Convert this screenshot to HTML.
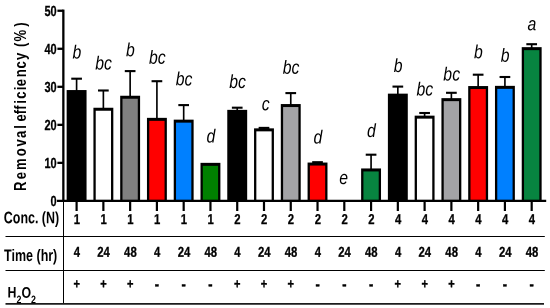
<!DOCTYPE html>
<html><head><meta charset="utf-8"><title>Removal efficiency</title>
<style>
html,body{margin:0;padding:0;background:#fff;}
svg{display:block;}
text{font-family:"Liberation Sans",Arial,sans-serif;fill:#000;}
.b{font-weight:bold;}
.i{font-style:italic;}
</style></head><body>
<svg width="550" height="308" viewBox="0 0 550 308">
<rect width="550" height="308" fill="#fff"/>
<path d="M76.60 91.05V78.70" stroke="#000" stroke-width="1.65" fill="none"/>
<path d="M71.25 78.70H81.95" stroke="#000" stroke-width="2.1" fill="none"/>
<rect x="66.65" y="90.05" width="19.90" height="110.85" fill="#000"/>
<rect x="68.95" y="93.05" width="15.30" height="106.85" fill="#000000"/>
<path d="M103.37 108.75V90.50" stroke="#000" stroke-width="1.65" fill="none"/>
<path d="M98.02 90.50H108.72" stroke="#000" stroke-width="2.1" fill="none"/>
<rect x="93.42" y="107.75" width="19.90" height="93.15" fill="#000"/>
<rect x="95.72" y="110.75" width="15.30" height="89.15" fill="#ffffff"/>
<path d="M130.14 96.75V71.10" stroke="#000" stroke-width="1.65" fill="none"/>
<path d="M124.79 71.10H135.49" stroke="#000" stroke-width="2.1" fill="none"/>
<rect x="120.19" y="95.75" width="19.90" height="105.15" fill="#000"/>
<rect x="122.49" y="98.75" width="15.30" height="101.15" fill="#808080"/>
<path d="M156.91 118.85V81.20" stroke="#000" stroke-width="1.65" fill="none"/>
<path d="M151.56 81.20H162.26" stroke="#000" stroke-width="2.1" fill="none"/>
<rect x="146.96" y="117.85" width="19.90" height="83.05" fill="#000"/>
<rect x="149.26" y="120.85" width="15.30" height="79.05" fill="#ff0000"/>
<path d="M183.68 120.65V105.10" stroke="#000" stroke-width="1.65" fill="none"/>
<path d="M178.33 105.10H189.03" stroke="#000" stroke-width="2.1" fill="none"/>
<rect x="173.73" y="119.65" width="19.90" height="81.25" fill="#000"/>
<rect x="176.03" y="122.65" width="15.30" height="77.25" fill="#0080ff"/>
<rect x="200.50" y="162.85" width="19.90" height="38.05" fill="#000"/>
<rect x="202.80" y="165.85" width="15.30" height="34.05" fill="#008000"/>
<path d="M237.22 110.85V107.70" stroke="#000" stroke-width="1.65" fill="none"/>
<path d="M231.87 107.70H242.57" stroke="#000" stroke-width="2.1" fill="none"/>
<rect x="227.27" y="109.85" width="19.90" height="91.05" fill="#000"/>
<rect x="229.57" y="112.85" width="15.30" height="87.05" fill="#000000"/>
<path d="M263.99 129.35V127.90" stroke="#000" stroke-width="1.65" fill="none"/>
<path d="M258.64 127.90H269.34" stroke="#000" stroke-width="2.1" fill="none"/>
<rect x="254.04" y="128.35" width="19.90" height="72.55" fill="#000"/>
<rect x="256.34" y="131.35" width="15.30" height="68.55" fill="#ffffff"/>
<path d="M290.76 105.05V93.10" stroke="#000" stroke-width="1.65" fill="none"/>
<path d="M285.41 93.10H296.11" stroke="#000" stroke-width="2.1" fill="none"/>
<rect x="280.81" y="104.05" width="19.90" height="96.85" fill="#000"/>
<rect x="283.11" y="107.05" width="15.30" height="92.85" fill="#a3a3a6"/>
<path d="M317.53 163.55V162.20" stroke="#000" stroke-width="1.65" fill="none"/>
<path d="M312.18 162.20H322.88" stroke="#000" stroke-width="2.1" fill="none"/>
<rect x="307.58" y="162.55" width="19.90" height="38.35" fill="#000"/>
<rect x="309.88" y="165.55" width="15.30" height="34.35" fill="#ff0000"/>
<path d="M371.07 169.45V154.70" stroke="#000" stroke-width="1.65" fill="none"/>
<path d="M365.72 154.70H376.42" stroke="#000" stroke-width="2.1" fill="none"/>
<rect x="361.12" y="168.45" width="19.90" height="32.45" fill="#000"/>
<rect x="363.42" y="171.45" width="15.30" height="28.45" fill="#078440"/>
<path d="M397.84 94.65V86.60" stroke="#000" stroke-width="1.65" fill="none"/>
<path d="M392.49 86.60H403.19" stroke="#000" stroke-width="2.1" fill="none"/>
<rect x="387.89" y="93.65" width="19.90" height="107.25" fill="#000"/>
<rect x="390.19" y="96.65" width="15.30" height="103.25" fill="#000000"/>
<path d="M424.61 116.65V113.00" stroke="#000" stroke-width="1.65" fill="none"/>
<path d="M419.26 113.00H429.96" stroke="#000" stroke-width="2.1" fill="none"/>
<rect x="414.66" y="115.65" width="19.90" height="85.25" fill="#000"/>
<rect x="416.96" y="118.65" width="15.30" height="81.25" fill="#ffffff"/>
<path d="M451.38 99.15V92.80" stroke="#000" stroke-width="1.65" fill="none"/>
<path d="M446.03 92.80H456.73" stroke="#000" stroke-width="2.1" fill="none"/>
<rect x="441.43" y="98.15" width="19.90" height="102.75" fill="#000"/>
<rect x="443.73" y="101.15" width="15.30" height="98.75" fill="#a3a3a6"/>
<path d="M478.15 87.05V74.70" stroke="#000" stroke-width="1.65" fill="none"/>
<path d="M472.80 74.70H483.50" stroke="#000" stroke-width="2.1" fill="none"/>
<rect x="468.20" y="86.05" width="19.90" height="114.85" fill="#000"/>
<rect x="470.50" y="89.05" width="15.30" height="110.85" fill="#ff0000"/>
<path d="M504.92 86.85V77.00" stroke="#000" stroke-width="1.65" fill="none"/>
<path d="M499.57 77.00H510.27" stroke="#000" stroke-width="2.1" fill="none"/>
<rect x="494.97" y="85.85" width="19.90" height="115.05" fill="#000"/>
<rect x="497.27" y="88.85" width="15.30" height="111.05" fill="#0080ff"/>
<path d="M531.69 48.15V44.20" stroke="#000" stroke-width="1.65" fill="none"/>
<path d="M526.34 44.20H537.04" stroke="#000" stroke-width="2.1" fill="none"/>
<rect x="521.74" y="47.15" width="19.90" height="153.75" fill="#000"/>
<rect x="524.04" y="50.15" width="15.30" height="149.75" fill="#078440"/>
<path d="M63.35 9.6V201.9" stroke="#000" stroke-width="2.3" fill="none"/>
<path d="M57 200.9H546.2" stroke="#000" stroke-width="2.2" fill="none"/>
<path d="M57.4 162.87H63.35" stroke="#000" stroke-width="2.3" fill="none"/>
<path d="M57.4 124.84H63.35" stroke="#000" stroke-width="2.3" fill="none"/>
<path d="M57.4 86.81H63.35" stroke="#000" stroke-width="2.3" fill="none"/>
<path d="M57.4 48.78H63.35" stroke="#000" stroke-width="2.3" fill="none"/>
<path d="M57.4 10.75H63.35" stroke="#000" stroke-width="2.3" fill="none"/>
<text class="b" transform="translate(56.70,206.10) rotate(0.2) scale(0.75,1)" font-size="14.6" text-anchor="end" stroke="#000" stroke-width="0.3">0</text>
<text class="b" transform="translate(56.70,168.07) rotate(0.2) scale(0.75,1)" font-size="14.6" text-anchor="end" stroke="#000" stroke-width="0.3">10</text>
<text class="b" transform="translate(56.70,130.04) rotate(0.2) scale(0.75,1)" font-size="14.6" text-anchor="end" stroke="#000" stroke-width="0.3">20</text>
<text class="b" transform="translate(56.70,92.01) rotate(0.2) scale(0.75,1)" font-size="14.6" text-anchor="end" stroke="#000" stroke-width="0.3">30</text>
<text class="b" transform="translate(56.70,53.98) rotate(0.2) scale(0.75,1)" font-size="14.6" text-anchor="end" stroke="#000" stroke-width="0.3">40</text>
<text class="b" transform="translate(56.70,15.95) rotate(0.2) scale(0.75,1)" font-size="14.6" text-anchor="end" stroke="#000" stroke-width="0.3">50</text>
<path d="M76.60 200.9V211.0" stroke="#000" stroke-width="2.2" fill="none"/>
<path d="M103.37 200.9V211.0" stroke="#000" stroke-width="2.2" fill="none"/>
<path d="M130.14 200.9V211.0" stroke="#000" stroke-width="2.2" fill="none"/>
<path d="M156.91 200.9V211.0" stroke="#000" stroke-width="2.2" fill="none"/>
<path d="M183.68 200.9V211.0" stroke="#000" stroke-width="2.2" fill="none"/>
<path d="M210.45 200.9V211.0" stroke="#000" stroke-width="2.2" fill="none"/>
<path d="M237.22 200.9V211.0" stroke="#000" stroke-width="2.2" fill="none"/>
<path d="M263.99 200.9V211.0" stroke="#000" stroke-width="2.2" fill="none"/>
<path d="M290.76 200.9V211.0" stroke="#000" stroke-width="2.2" fill="none"/>
<path d="M317.53 200.9V211.0" stroke="#000" stroke-width="2.2" fill="none"/>
<path d="M344.30 200.9V211.0" stroke="#000" stroke-width="2.2" fill="none"/>
<path d="M371.07 200.9V211.0" stroke="#000" stroke-width="2.2" fill="none"/>
<path d="M397.84 200.9V211.0" stroke="#000" stroke-width="2.2" fill="none"/>
<path d="M424.61 200.9V211.0" stroke="#000" stroke-width="2.2" fill="none"/>
<path d="M451.38 200.9V211.0" stroke="#000" stroke-width="2.2" fill="none"/>
<path d="M478.15 200.9V211.0" stroke="#000" stroke-width="2.2" fill="none"/>
<path d="M504.92 200.9V211.0" stroke="#000" stroke-width="2.2" fill="none"/>
<path d="M531.69 200.9V211.0" stroke="#000" stroke-width="2.2" fill="none"/>
<path d="M63.5 201V304" stroke="#000" stroke-width="1" fill="none"/>
<path d="M5.5 236.5H544.8M5.5 270.5H544.8" stroke="#000" stroke-width="1" fill="none"/>
<path d="M5.5 303.9H544.0" stroke="#1c1c1c" stroke-width="1.9" fill="none"/>
<text class="b" transform="translate(3.80,223.20) rotate(0.2) scale(0.746,1)" font-size="16.7" text-anchor="start">Conc. (N)</text>
<text class="b" transform="translate(4.10,260.90) rotate(0.2) scale(0.748,1)" font-size="16.7" text-anchor="start">Time (hr)</text>
<text class="b" transform="translate(7.6,297.6) rotate(0.2) scale(0.80,1)" font-size="15.4">H<tspan font-size="11" dy="5.5">2</tspan><tspan dy="-5.5">O</tspan><tspan font-size="11" dy="5.5">2</tspan></text>
<text class="b" transform="translate(76.85,224.00) rotate(0.2) scale(0.79,1)" font-size="14.3" text-anchor="middle" stroke="#000" stroke-width="0.3">1</text>
<text class="b" transform="translate(76.85,256.80) rotate(0.2) scale(0.79,1)" font-size="14.3" text-anchor="middle" stroke="#000" stroke-width="0.3">4</text>
<text class="b" transform="translate(76.60,288.30) rotate(0.2) scale(0.82,1)" font-size="13.5" text-anchor="middle" stroke="#000" stroke-width="0.35">+</text>
<text class="b" transform="translate(103.62,224.00) rotate(0.2) scale(0.79,1)" font-size="14.3" text-anchor="middle" stroke="#000" stroke-width="0.3">1</text>
<text class="b" transform="translate(103.62,256.80) rotate(0.2) scale(0.79,1)" font-size="14.3" text-anchor="middle" stroke="#000" stroke-width="0.3">24</text>
<text class="b" transform="translate(103.37,288.30) rotate(0.2) scale(0.82,1)" font-size="13.5" text-anchor="middle" stroke="#000" stroke-width="0.35">+</text>
<text class="b" transform="translate(130.39,224.00) rotate(0.2) scale(0.79,1)" font-size="14.3" text-anchor="middle" stroke="#000" stroke-width="0.3">1</text>
<text class="b" transform="translate(130.39,256.80) rotate(0.2) scale(0.79,1)" font-size="14.3" text-anchor="middle" stroke="#000" stroke-width="0.3">48</text>
<text class="b" transform="translate(130.14,288.30) rotate(0.2) scale(0.82,1)" font-size="13.5" text-anchor="middle" stroke="#000" stroke-width="0.35">+</text>
<text class="b" transform="translate(157.16,224.00) rotate(0.2) scale(0.79,1)" font-size="14.3" text-anchor="middle" stroke="#000" stroke-width="0.3">1</text>
<text class="b" transform="translate(157.16,256.80) rotate(0.2) scale(0.79,1)" font-size="14.3" text-anchor="middle" stroke="#000" stroke-width="0.3">4</text>
<text class="b" transform="translate(156.91,289.20) rotate(0.2) scale(0.85,1)" font-size="15" text-anchor="middle" stroke="#000" stroke-width="0.5">-</text>
<text class="b" transform="translate(183.93,224.00) rotate(0.2) scale(0.79,1)" font-size="14.3" text-anchor="middle" stroke="#000" stroke-width="0.3">1</text>
<text class="b" transform="translate(183.93,256.80) rotate(0.2) scale(0.79,1)" font-size="14.3" text-anchor="middle" stroke="#000" stroke-width="0.3">24</text>
<text class="b" transform="translate(183.68,289.20) rotate(0.2) scale(0.85,1)" font-size="15" text-anchor="middle" stroke="#000" stroke-width="0.5">-</text>
<text class="b" transform="translate(210.70,224.00) rotate(0.2) scale(0.79,1)" font-size="14.3" text-anchor="middle" stroke="#000" stroke-width="0.3">1</text>
<text class="b" transform="translate(210.70,256.80) rotate(0.2) scale(0.79,1)" font-size="14.3" text-anchor="middle" stroke="#000" stroke-width="0.3">48</text>
<text class="b" transform="translate(210.45,289.20) rotate(0.2) scale(0.85,1)" font-size="15" text-anchor="middle" stroke="#000" stroke-width="0.5">-</text>
<text class="b" transform="translate(237.47,224.00) rotate(0.2) scale(0.79,1)" font-size="14.3" text-anchor="middle" stroke="#000" stroke-width="0.3">2</text>
<text class="b" transform="translate(237.47,256.80) rotate(0.2) scale(0.79,1)" font-size="14.3" text-anchor="middle" stroke="#000" stroke-width="0.3">4</text>
<text class="b" transform="translate(237.22,288.30) rotate(0.2) scale(0.82,1)" font-size="13.5" text-anchor="middle" stroke="#000" stroke-width="0.35">+</text>
<text class="b" transform="translate(264.24,224.00) rotate(0.2) scale(0.79,1)" font-size="14.3" text-anchor="middle" stroke="#000" stroke-width="0.3">2</text>
<text class="b" transform="translate(264.24,256.80) rotate(0.2) scale(0.79,1)" font-size="14.3" text-anchor="middle" stroke="#000" stroke-width="0.3">24</text>
<text class="b" transform="translate(263.99,288.30) rotate(0.2) scale(0.82,1)" font-size="13.5" text-anchor="middle" stroke="#000" stroke-width="0.35">+</text>
<text class="b" transform="translate(291.01,224.00) rotate(0.2) scale(0.79,1)" font-size="14.3" text-anchor="middle" stroke="#000" stroke-width="0.3">2</text>
<text class="b" transform="translate(291.01,256.80) rotate(0.2) scale(0.79,1)" font-size="14.3" text-anchor="middle" stroke="#000" stroke-width="0.3">48</text>
<text class="b" transform="translate(290.76,288.30) rotate(0.2) scale(0.82,1)" font-size="13.5" text-anchor="middle" stroke="#000" stroke-width="0.35">+</text>
<text class="b" transform="translate(317.78,224.00) rotate(0.2) scale(0.79,1)" font-size="14.3" text-anchor="middle" stroke="#000" stroke-width="0.3">2</text>
<text class="b" transform="translate(317.78,256.80) rotate(0.2) scale(0.79,1)" font-size="14.3" text-anchor="middle" stroke="#000" stroke-width="0.3">4</text>
<text class="b" transform="translate(317.53,289.20) rotate(0.2) scale(0.85,1)" font-size="15" text-anchor="middle" stroke="#000" stroke-width="0.5">-</text>
<text class="b" transform="translate(344.55,224.00) rotate(0.2) scale(0.79,1)" font-size="14.3" text-anchor="middle" stroke="#000" stroke-width="0.3">2</text>
<text class="b" transform="translate(344.55,256.80) rotate(0.2) scale(0.79,1)" font-size="14.3" text-anchor="middle" stroke="#000" stroke-width="0.3">24</text>
<text class="b" transform="translate(344.30,289.20) rotate(0.2) scale(0.85,1)" font-size="15" text-anchor="middle" stroke="#000" stroke-width="0.5">-</text>
<text class="b" transform="translate(371.32,224.00) rotate(0.2) scale(0.79,1)" font-size="14.3" text-anchor="middle" stroke="#000" stroke-width="0.3">2</text>
<text class="b" transform="translate(371.32,256.80) rotate(0.2) scale(0.79,1)" font-size="14.3" text-anchor="middle" stroke="#000" stroke-width="0.3">48</text>
<text class="b" transform="translate(371.07,289.20) rotate(0.2) scale(0.85,1)" font-size="15" text-anchor="middle" stroke="#000" stroke-width="0.5">-</text>
<text class="b" transform="translate(398.09,224.00) rotate(0.2) scale(0.79,1)" font-size="14.3" text-anchor="middle" stroke="#000" stroke-width="0.3">4</text>
<text class="b" transform="translate(398.09,256.80) rotate(0.2) scale(0.79,1)" font-size="14.3" text-anchor="middle" stroke="#000" stroke-width="0.3">4</text>
<text class="b" transform="translate(397.84,288.30) rotate(0.2) scale(0.82,1)" font-size="13.5" text-anchor="middle" stroke="#000" stroke-width="0.35">+</text>
<text class="b" transform="translate(424.86,224.00) rotate(0.2) scale(0.79,1)" font-size="14.3" text-anchor="middle" stroke="#000" stroke-width="0.3">4</text>
<text class="b" transform="translate(424.86,256.80) rotate(0.2) scale(0.79,1)" font-size="14.3" text-anchor="middle" stroke="#000" stroke-width="0.3">24</text>
<text class="b" transform="translate(424.61,288.30) rotate(0.2) scale(0.82,1)" font-size="13.5" text-anchor="middle" stroke="#000" stroke-width="0.35">+</text>
<text class="b" transform="translate(451.63,224.00) rotate(0.2) scale(0.79,1)" font-size="14.3" text-anchor="middle" stroke="#000" stroke-width="0.3">4</text>
<text class="b" transform="translate(451.63,256.80) rotate(0.2) scale(0.79,1)" font-size="14.3" text-anchor="middle" stroke="#000" stroke-width="0.3">48</text>
<text class="b" transform="translate(451.38,288.30) rotate(0.2) scale(0.82,1)" font-size="13.5" text-anchor="middle" stroke="#000" stroke-width="0.35">+</text>
<text class="b" transform="translate(478.40,224.00) rotate(0.2) scale(0.79,1)" font-size="14.3" text-anchor="middle" stroke="#000" stroke-width="0.3">4</text>
<text class="b" transform="translate(478.40,256.80) rotate(0.2) scale(0.79,1)" font-size="14.3" text-anchor="middle" stroke="#000" stroke-width="0.3">4</text>
<text class="b" transform="translate(478.15,289.20) rotate(0.2) scale(0.85,1)" font-size="15" text-anchor="middle" stroke="#000" stroke-width="0.5">-</text>
<text class="b" transform="translate(505.17,224.00) rotate(0.2) scale(0.79,1)" font-size="14.3" text-anchor="middle" stroke="#000" stroke-width="0.3">4</text>
<text class="b" transform="translate(505.17,256.80) rotate(0.2) scale(0.79,1)" font-size="14.3" text-anchor="middle" stroke="#000" stroke-width="0.3">24</text>
<text class="b" transform="translate(504.92,289.20) rotate(0.2) scale(0.85,1)" font-size="15" text-anchor="middle" stroke="#000" stroke-width="0.5">-</text>
<text class="b" transform="translate(531.94,224.00) rotate(0.2) scale(0.79,1)" font-size="14.3" text-anchor="middle" stroke="#000" stroke-width="0.3">4</text>
<text class="b" transform="translate(531.94,256.80) rotate(0.2) scale(0.79,1)" font-size="14.3" text-anchor="middle" stroke="#000" stroke-width="0.3">48</text>
<text class="b" transform="translate(531.69,289.20) rotate(0.2) scale(0.85,1)" font-size="15" text-anchor="middle" stroke="#000" stroke-width="0.5">-</text>
<text class="i" transform="translate(76.90,58.60) rotate(0.2) scale(0.83,1)" font-size="19.0" text-anchor="middle">b</text>
<text class="i" transform="translate(103.67,69.50) rotate(0.2) scale(0.83,1)" font-size="19.0" text-anchor="middle">bc</text>
<text class="i" transform="translate(130.44,56.30) rotate(0.2) scale(0.83,1)" font-size="19.0" text-anchor="middle">b</text>
<text class="i" transform="translate(157.21,63.80) rotate(0.2) scale(0.83,1)" font-size="19.0" text-anchor="middle">bc</text>
<text class="i" transform="translate(183.98,85.40) rotate(0.2) scale(0.83,1)" font-size="19.0" text-anchor="middle">bc</text>
<text class="i" transform="translate(210.75,142.40) rotate(0.2) scale(0.83,1)" font-size="19.0" text-anchor="middle">d</text>
<text class="i" transform="translate(237.52,88.00) rotate(0.2) scale(0.83,1)" font-size="19.0" text-anchor="middle">bc</text>
<text class="i" transform="translate(265.59,110.30) rotate(0.2) scale(0.83,1)" font-size="19.0" text-anchor="middle">c</text>
<text class="i" transform="translate(291.06,73.80) rotate(0.2) scale(0.83,1)" font-size="19.0" text-anchor="middle">bc</text>
<text class="i" transform="translate(317.83,143.50) rotate(0.2) scale(0.83,1)" font-size="19.0" text-anchor="middle">d</text>
<text class="i" transform="translate(343.60,183.90) rotate(0.2) scale(0.83,1)" font-size="19.0" text-anchor="middle">e</text>
<text class="i" transform="translate(371.37,137.00) rotate(0.2) scale(0.83,1)" font-size="19.0" text-anchor="middle">d</text>
<text class="i" transform="translate(398.14,72.10) rotate(0.2) scale(0.83,1)" font-size="19.0" text-anchor="middle">b</text>
<text class="i" transform="translate(424.91,95.50) rotate(0.2) scale(0.83,1)" font-size="19.0" text-anchor="middle">bc</text>
<text class="i" transform="translate(451.68,80.60) rotate(0.2) scale(0.83,1)" font-size="19.0" text-anchor="middle">bc</text>
<text class="i" transform="translate(478.45,58.30) rotate(0.2) scale(0.83,1)" font-size="19.0" text-anchor="middle">b</text>
<text class="i" transform="translate(505.22,61.70) rotate(0.2) scale(0.83,1)" font-size="19.0" text-anchor="middle">b</text>
<text class="i" transform="translate(531.99,30.30) rotate(0.2) scale(0.83,1)" font-size="19.0" text-anchor="middle">a</text>
<text class="b" transform="translate(25.9,190.9) rotate(-90) scale(0.8,1)" font-size="16.3" dx="0 2.93 2.46 2.53 2.24 1.71 2.46 0.29 -0.33 -0.16 0.33 2.08 1.73 1.52 0.36 2.15 1.06 1.52 1.59 0.98 1.64 3.72">Removal efficiency (%)</text>
</svg></body></html>
